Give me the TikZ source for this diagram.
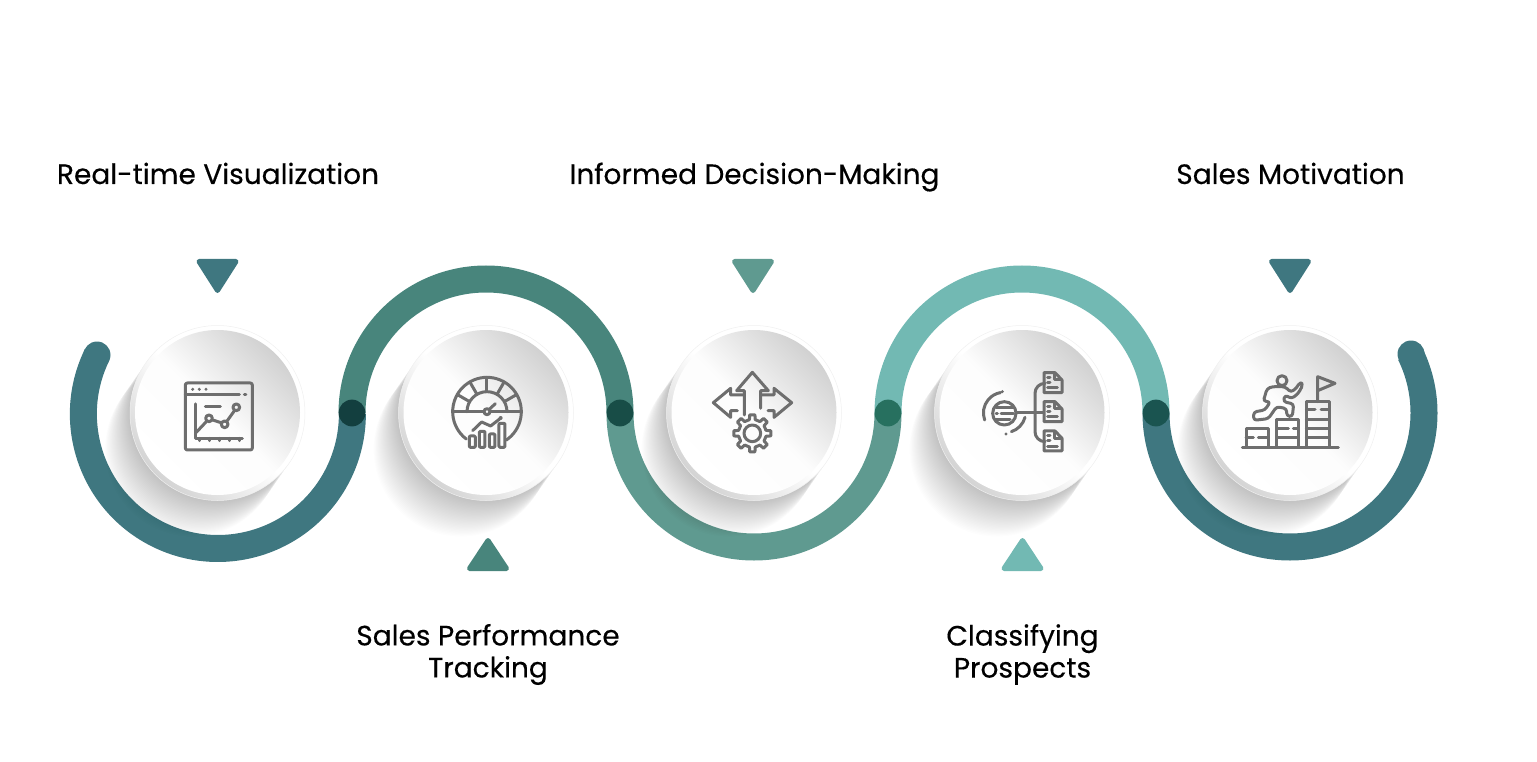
\documentclass[tikz,border=0pt]{standalone}
\usepackage{fontspec}
\setmainfont[FakeBold=0.35]{Poppins}
\usepackage{xcolor}
\usepackage{tikz}
\definecolor{tealA}{HTML}{3F7780}
\definecolor{tealB}{HTML}{48857C}
\definecolor{tealC}{HTML}{5F9A90}
\definecolor{tealD}{HTML}{72B9B3}
\definecolor{jointA}{HTML}{133F3F}
\definecolor{jointB}{HTML}{184D47}
\definecolor{jointC}{HTML}{27705F}
\definecolor{jointD}{HTML}{1A5450}
\definecolor{iconGray}{HTML}{6E6E6E}
\tikzset{
    band/.style={line width=27pt},
    wedge/.style={line width=5pt,line join=round},
    iconline/.style={draw=iconGray,line width=3pt,line cap=round,line join=round},
    caption/.style={font=\fontsize{28}{32}\selectfont,align=center,text=black},
}
\begin{document}
\begin{tikzpicture}[x=1pt,y=-1pt]
\useasboundingbox (0,0) rectangle (1537,762);

\fill[tealA] (97,355) circle (13.5);
\fill[tealA] (1411,354) circle (13.5);
\draw[band,tealA] (97,355) arc[start angle=154,end angle=360,radius=134.5pt];
\draw[band,tealA] (1156,413) arc[start angle=180,end angle=386,radius=134pt];
\draw[band,tealB] (352,413) arc[start angle=180,end angle=0,radius=134pt];
\draw[band,tealC] (620,413) arc[start angle=180,end angle=360,radius=134pt];
\draw[band,tealD] (888,413) arc[start angle=180,end angle=0,radius=134pt];

\foreach \name/\cx in {discA/217.5,discB/486,discC/754,discD/1022,discE/1290}{
    \coordinate (\name) at (\cx,413);
    \foreach \t in {1,...,30}
        \fill[black,opacity=.0095] (\cx-.83*\t,413+1.2*\t) circle (87.5);
    \shadedraw[draw=black!6,line width=.5pt,top color=white,bottom color=black!17,middle color=white,shading angle=-45] (\name) circle (87.5);
    \shade[top color=black!18,bottom color=white,middle color=black!1,shading angle=-45] (\cx,412.5) circle (82.5);
}

\fill[jointA] (352,413) circle (13.4);
\fill[jointB] (620,413) circle (13.4);
\fill[jointC] (888,413) circle (13.4);
\fill[jointD] (1156,413) circle (13.4);

\foreach \cx/\col in {217.5/tealA,753/tealC,1290/tealA}
    \filldraw[wedge,\col] (\cx-18.5,261.5) -- (\cx+18.5,261.5) -- (\cx,290.5) -- cycle;
\foreach \cx/\col in {488/tealB,1022.5/tealD}
    \filldraw[wedge,\col] (\cx-18.5,568.5) -- (\cx+18.5,568.5) -- (\cx,540.5) -- cycle;

% chart window
\begin{scope}[shift={(60,250)},scale=.3333]
    \draw[iconline,rounded corners=2pt] (376,399) rectangle (577,600);
    \draw[iconline] (376,435) -- (538,435) (553,435) -- (558,435);
    \foreach \x in {398,418,438} \fill[iconGray] (\x,418) circle (5);
    \draw[iconline] (408,462) -- (408,565) -- (547,565);
    \foreach \x in {420,450,480,510,540} \draw[iconline] (\x,565) -- (\x,572);
    \draw[iconline] (436,471) -- (481,471);
    \draw[iconline] (408,548) -- (438,516) (458,510) -- (483,518) (502,512) -- (522,484);
    \foreach \p in {(447,505),(494,523),(529,472)} \draw[iconline] \p circle (10);
\end{scope}

% gauge
\begin{scope}[shift={(430,360)},scale=.3333]
    \draw[iconline] (171,155) ++(56:103) arc[start angle=-56,end angle=233,radius=103pt];
    \draw[iconline] (68,155) -- (158,155) (184,155) -- (274,155);
    \draw[iconline] (111,155) arc[start angle=180,end angle=0,radius=60pt];
    \foreach \a in {30,60,90,120,150}
        \draw[iconline] (171,155) ++(-\a:60) -- ++(-\a:43);
    \draw[iconline] (171,155) circle (9);
    \draw[iconline] (179,147) -- (196,131);
    \draw[iconline] (128,212) -- (155,186) -- (182,198) -- (210,176);
    \fill[iconGray] (212,174) circle (6);
    \draw[iconline,rounded corners=1pt] (118,228) rectangle (136,262);
    \draw[iconline,rounded corners=1pt] (148,214) rectangle (165,262);
    \draw[iconline,rounded corners=1pt] (178,222) rectangle (195,262);
    \draw[iconline,rounded corners=1pt] (207,190) rectangle (225,262);
\end{scope}

% arrows and gear
\begin{scope}[shift={(700,360)},scale=.3333]
    \draw[iconline] (133,165) -- (133,92) -- (110,92) -- (157,37) -- (205,92) -- (182,92) -- (182,145);
    \draw[iconline] (133,105) -- (92,105) -- (92,85) -- (40,128) -- (92,172) -- (92,152) -- (112,152);
    \draw[iconline] (182,105) -- (222,105) -- (222,85) -- (275,128) -- (222,172) -- (222,152) -- (204,152);
    \begin{scope}[shift={(157,220)}]
        \draw[iconline] (0,0) circle (25);
        \foreach \a in {0,45,...,315}
            \draw[iconline] (\a-12:42) -- (\a-8:56) -- (\a+8:56) -- (\a+12:42) -- (\a+33:42);
    \end{scope}
\end{scope}

% sorting documents
\begin{scope}[shift={(970,360)},scale=.3333]
    \draw[iconline] (103,160) circle (35);
    \draw[iconline] (78,143) -- (130,143) (78,160) -- (82,160) (93,160) -- (130,160) (75,178) -- (120,178);
    \draw[iconline] (44,180) arc[start angle=200,end angle=100,radius=62pt];
    \fill[iconGray] (97,95) circle (5);
    \draw[iconline] (165,172) arc[start angle=-15,end angle=-72,radius=62pt];
    \fill[iconGray] (108,222) circle (5);
    \draw[iconline] (140,158) -- (220,158);
    \draw[iconline,rounded corners=10pt] (220,70) -- (195,70) -- (195,245) -- (220,245);
    \foreach \y in {38,125,213}{
        \draw[iconline] (222,\y) -- (255,\y) -- (276,\y+22) -- (276,\y+60) -- (222,\y+60) -- cycle;
        \draw[iconline] (254,\y+2) -- (254,\y+22) -- (274,\y+22);
        \draw[iconline] (233,\y+14) -- (240,\y+14) (233,\y+29) -- (240,\y+29) (233,\y+46) -- (262,\y+46);
    }
\end{scope}

% runner on blocks
\begin{scope}[shift={(1235,360)},scale=.3333]
    \draw[iconline] (22,262) -- (310,262);
    \draw[iconline] (33,262) -- (33,205) -- (100,205) -- (100,262);
    \draw[iconline] (33,232) -- (55,232) (70,232) -- (100,232);
    \draw[iconline] (125,262) -- (125,178) -- (190,178) -- (190,262);
    \draw[iconline] (125,205) -- (160,205) (175,205) -- (190,205) (125,233) -- (190,233);
    \draw[iconline] (214,262) -- (214,125) -- (283,125) -- (283,262);
    \draw[iconline] (214,150) -- (240,150) (258,150) -- (283,150) (214,178) -- (283,178) (214,205) -- (283,205) (214,233) -- (283,233);
    \draw[iconline] (248,125) -- (248,50) -- (300,70) -- (248,92);
    \draw[iconline] (141,62) circle (15);
    \draw[iconline,rounded corners=3pt] (112,80) -- (150,80) -- (168,97) -- (186,82) -- (195,66) -- (204,74) -- (190,100) -- (170,116) -- (150,105)
        -- (145,125) -- (176,132) -- (172,170) -- (155,168) -- (155,146) -- (125,140) -- (100,176) -- (56,181) -- (56,156) -- (90,150)
        -- (106,125) -- (85,124) -- (96,86) -- cycle;
\end{scope}

\node[caption,anchor=base] (realtime) at (218,184) {Real-time Visualization};
\node[caption] (tracking) at (488,654.5) {Sales Performance\\Tracking};
\node[caption,anchor=base] (decision) at (754.5,184) {Informed Decision-Making};
\node[caption] (prospects) at (1022.5,654.5) {Classifying\\Prospects};
\node[caption,anchor=base] (motivation) at (1290.5,184) {Sales Motivation};
\end{tikzpicture}
\end{document}
